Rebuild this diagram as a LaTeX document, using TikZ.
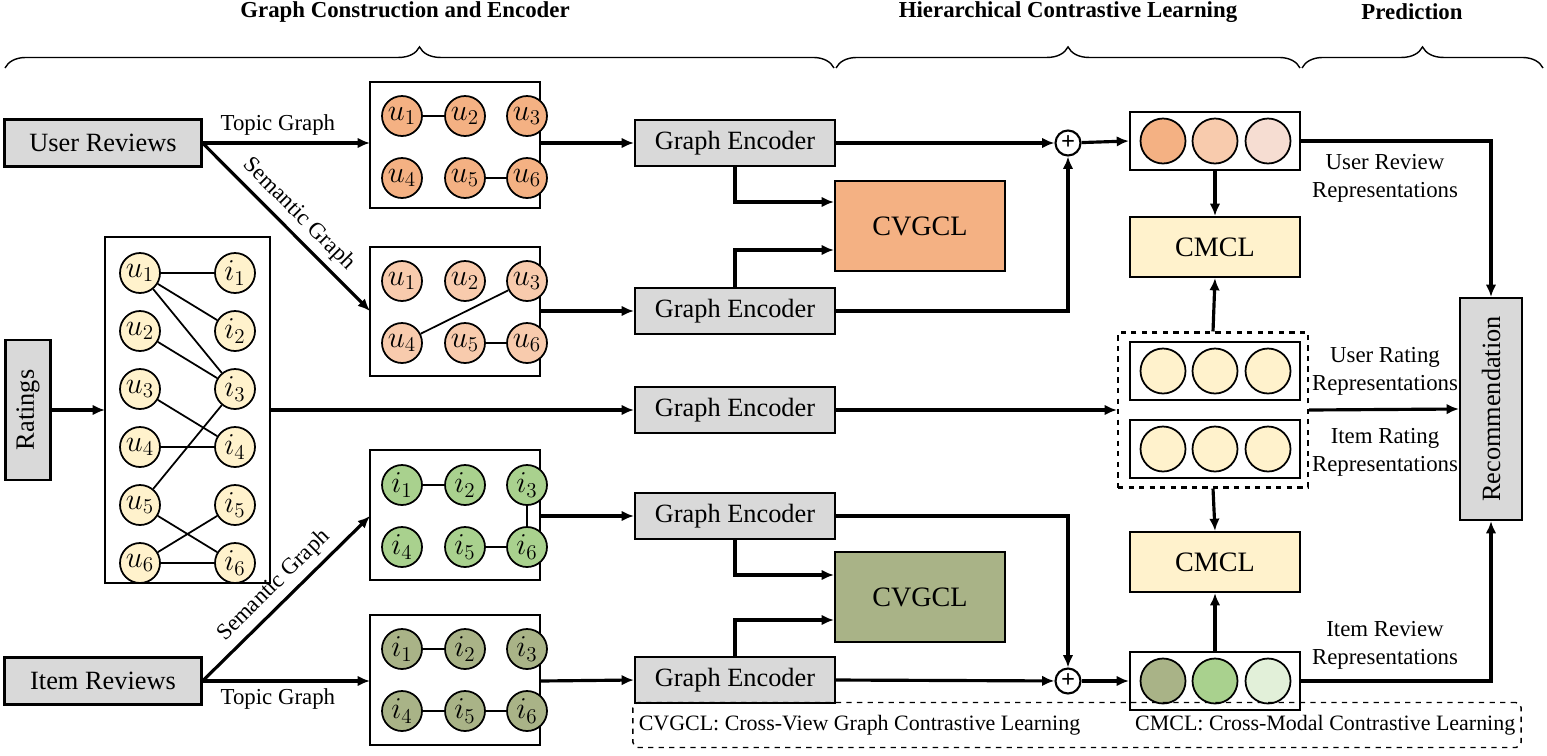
\documentclass[tikz,border=0pt]{standalone}
\usepackage{fontspec}
\setmainfont{Liberation Serif}
\usetikzlibrary{arrows.meta,decorations.pathreplacing}
\definecolor{boxgray}{HTML}{D9D9D9}
\definecolor{uorange}{HTML}{F4B183}
\definecolor{ulight}{HTML}{F8CBAD}
\definecolor{upale}{HTML}{F6DDD2}
\definecolor{ryellow}{HTML}{FFF2CC}
\definecolor{iolive}{HTML}{A9B387}
\definecolor{igreen}{HTML}{A9D18E}
\definecolor{ipale}{HTML}{E2F0D9}
\tikzset{
  >={Latex[length=7pt,width=6pt]},
  flow/.style={->, line width=1.8pt},
  grey/.style={draw, line width=1.2pt, fill=boxgray, font=\fontsize{15}{17}\selectfont},
  enc/.style={grey, minimum width=4cm, minimum height=0.92cm},
  frame/.style={draw, line width=1.2pt},
  nd/.style={circle, draw, line width=1pt, minimum size=0.8cm, inner sep=0pt, font=\fontsize{18}{20}\selectfont},
  cell/.style={circle, draw, line width=1pt, minimum size=0.9cm, inner sep=0pt},
  lab/.style={font=\fontsize{13}{15}\selectfont},
  rep/.style={font=\fontsize{13}{16}\selectfont, align=center},
  title/.style={font=\bfseries\fontsize{13}{15}\selectfont},
  brace/.style={decorate, decoration={brace, amplitude=12pt}, line width=0.8pt},
  plus/.style={circle, draw, line width=1.2pt, minimum size=0.5cm, inner sep=0pt, font=\bfseries\fontsize{14}{14}\selectfont}
}
\begin{document}
\begin{tikzpicture}[x=0.02cm,y=-0.02cm]
\useasboundingbox (0,0) rectangle (1547,755);
% titles and braces
\node[title] (t1) at (405,12) {Graph Construction and Encoder};
\node[title] (t2) at (1068,12) {Hierarchical Contrastive Learning};
\node[title] (t3) at (1412,12) {Prediction};
\draw[brace] (5,68) -- (834,68);
\draw[brace] (836,68) -- (1300,68);
\draw[brace] (1302,68) -- (1543,68);
% inputs
\node[grey, minimum width=3.94cm, minimum height=0.94cm] (ur) at (103,143) {User Reviews};
\node[grey, minimum width=3.94cm, minimum height=0.94cm] (ir) at (103,681) {Item Reviews};
\node[grey, minimum width=2.8cm, minimum height=0.9cm, rotate=90] (rt) at (28,410) {Ratings};
% bipartite rating graph
\draw[frame] (105,237) rectangle (270,583);
\coordinate (bl) at (105,410);
\coordinate (br) at (270,410);
\foreach \k in {1,...,6} {
  \node[nd, fill=ryellow] (bu\k) at (140,215+58*\k) {$u_{\k}$};
  \node[nd, fill=ryellow] (bi\k) at (235,215+58*\k) {$i_{\k}$};
}
\foreach \a/\b in {1/1,1/2,1/3,2/3,3/4,4/4,5/3,5/6,6/5,6/6}
  \draw[line width=1pt] (bu\a) -- (bi\b);
% review graphs
\draw[frame] (370,82) rectangle (540,208);
\draw[frame] (370,247) rectangle (540,376);
\draw[frame] (370,450) rectangle (540,580);
\draw[frame] (370,615) rectangle (540,745);
\coordinate (ut) at (370,143); \coordinate (utr) at (540,143);
\coordinate (us) at (370,311); \coordinate (usr) at (540,311);
\coordinate (is) at (370,516); \coordinate (isr) at (540,516);
\coordinate (it) at (370,681); \coordinate (itr) at (540,681);
\foreach \n/\x/\y in {1/402/116,2/465/116,3/527/116,4/402/178,5/465/178,6/527/178}
  \node[nd, fill=uorange] (tu\n) at (\x,\y) {$u_{\n}$};
\foreach \n/\x/\y in {1/402/281,2/465/281,3/527/281,4/402/343,5/465/343,6/527/343}
  \node[nd, fill=ulight] (su\n) at (\x,\y) {$u_{\n}$};
\foreach \n/\x/\y in {1/402/485,2/465/485,3/527/485,4/402/547,5/465/547,6/527/547}
  \node[nd, fill=igreen] (si\n) at (\x,\y) {$i_{\n}$};
\foreach \n/\x/\y in {1/402/649,2/465/649,3/527/649,4/402/711,5/465/711,6/527/711}
  \node[nd, fill=iolive] (ti\n) at (\x,\y) {$i_{\n}$};
\draw[line width=1pt] (tu1) -- (tu2) (tu5) -- (tu6);
\draw[line width=1pt] (su4) -- (su3) (su5) -- (su6);
\draw[line width=1pt] (si1) -- (si2) (si3) -- (si6) (si5) -- (si6);
\draw[line width=1pt] (ti1) -- (ti2) (ti4) -- (ti5) (ti5) -- (ti6);
% encoders
\node[enc] (ge1) at (735,143) {Graph Encoder};
\node[enc] (ge2) at (735,311) {Graph Encoder};
\node[enc] (ge3) at (735,410) {Graph Encoder};
\node[enc] (ge4) at (735,516) {Graph Encoder};
\node[enc] (ge5) at (735,680) {Graph Encoder};
\node[draw, line width=1.2pt, fill=uorange, minimum width=3.4cm, minimum height=1.8cm, font=\fontsize{16}{18}\selectfont] (cv1) at (920,226) {CVGCL};
\node[draw, line width=1.2pt, fill=iolive, minimum width=3.4cm, minimum height=1.8cm, font=\fontsize{16}{18}\selectfont] (cv2) at (920,597) {CVGCL};
\node[plus] (p1) at (1068,143) {+};
\node[plus] (p2) at (1068,681) {+};
% representations
\node[frame, minimum width=3.4cm, minimum height=1.16cm] (r1) at (1215,141) {};
\node[frame, minimum width=3.4cm, minimum height=1.16cm] (r2) at (1215,371) {};
\node[frame, minimum width=3.4cm, minimum height=1.16cm] (r3) at (1215,449) {};
\node[frame, minimum width=3.4cm, minimum height=1.16cm] (r4) at (1215,681) {};
\node[draw, dashed, line width=1.2pt, minimum width=3.8cm, minimum height=3.1cm] (db) at (1213,410) {};
\foreach \c/\x in {uorange/1163,ulight/1215,upale/1268} \node[cell, fill=\c] at (\x,141) {};
\foreach \x in {1163,1215,1268} {
  \node[cell, fill=ryellow] at (\x,371) {};
  \node[cell, fill=ryellow] at (\x,449) {};
}
\foreach \c/\x in {iolive/1163,igreen/1215,ipale/1268} \node[cell, fill=\c] at (\x,681) {};
\node[draw, line width=1.2pt, fill=ryellow, minimum width=3.4cm, minimum height=1.2cm, font=\fontsize{16}{18}\selectfont] (cm1) at (1215,247) {CMCL};
\node[draw, line width=1.2pt, fill=ryellow, minimum width=3.4cm, minimum height=1.2cm, font=\fontsize{16}{18}\selectfont] (cm2) at (1215,562) {CMCL};
\node[grey, minimum width=4.44cm, minimum height=1.24cm, rotate=90] (rec) at (1491,409) {Recommendation};
\node[rep] (l1) at (1385,178) {User Review\\Representations};
\node[rep] (l2) at (1385,371) {User Rating\\Representations};
\node[rep] (l3) at (1385,452) {Item Rating\\Representations};
\node[rep] (l4) at (1385,645) {Item Review\\Representations};
% connectors
\draw[flow] (ur.east) -- node[lab, above, pos=0.45] {Topic Graph} (ut);
\draw[flow] (ur.east) -- node[lab, above, sloped, pos=0.5] {Semantic Graph} (us);
\draw[flow] (ir.east) -- node[lab, above, sloped, pos=0.5] {Semantic Graph} (is);
\draw[flow] (ir.east) -- node[lab, below, pos=0.45] {Topic Graph} (it);
\draw[flow] (rt.south) -- (bl);
\draw[flow] (utr) -- (ge1.west);
\draw[flow] (usr) -- (ge2.west);
\draw[flow] (br) -- (ge3.west);
\draw[flow] (isr) -- (ge4.west);
\draw[flow] (itr) -- (ge5.west);
\draw[flow] (ge1.south) |- (cv1.west |- 0,202);
\draw[flow] (ge2.north) |- (cv1.west |- 0,250);
\draw[flow] (ge4.south) |- (cv2.west |- 0,575);
\draw[flow] (ge5.north) |- (cv2.west |- 0,620);
\draw[flow] (ge1.east) -- (p1);
\draw[flow] (ge2.east) -| (p1);
\draw[flow] (ge4.east) -| (p2);
\draw[flow] (ge5.east) -- (p2);
\draw[flow] (p1) -- (r1.west);
\draw[flow] (p2) -- (r4.west);
\draw[flow] (ge3.east) -- (db.west);
\draw[flow] (r1.south) -- (cm1.north);
\draw[flow] (db.north) -- (cm1.south);
\draw[flow] (db.south) -- (cm2.north);
\draw[flow] (r4.north) -- (cm2.south);
\draw[flow] (r1.east) -| (rec.east);
\draw[flow] (db.east) -- (rec.north);
\draw[flow] (r4.east) -| (rec.west);
% legend
\node[draw, dashed, rounded corners=3pt, line width=0.8pt, minimum width=17.7cm, minimum height=0.9cm, font=\fontsize{12.5}{14}\selectfont] (leg) at (1077,725) {CVGCL: Cross-View Graph Contrastive Learning\hspace{1.1cm}CMCL: Cross-Modal Contrastive Learning};
\end{tikzpicture}
\end{document}
